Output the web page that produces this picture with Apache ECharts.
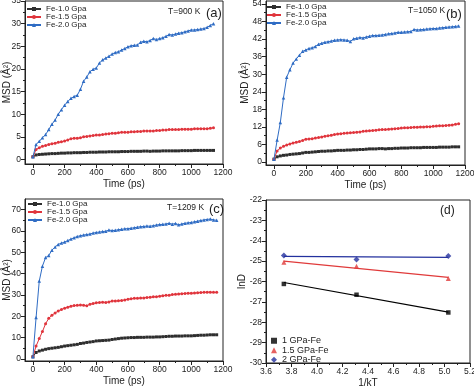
<!DOCTYPE html>
<html><head><meta charset="utf-8">
<script src="https://cdn.jsdelivr.net/npm/echarts@6/dist/echarts.min.js"></script>
<style>html,body{margin:0;padding:0;background:#fff}#c{width:474px;height:390px}</style>
</head><body><div id="c"></div>
<script>
// ---------- data ----------
const time = [0,20,40,60,80,100,120,140,160,180,
  200,220,240,260,280,300,320,340,360,380,
  400,420,440,460,480,500,520,540,560,580,
  600,620,640,660,680,700,720,740,760,780,
  800,820,840,860,880,900,920,940,960,980,
  1000,1020,1040,1060,1080,1100,1120,1140,1160];
const seriesNames = ['Fe-1.0 Gpa','Fe-1.5 Gpa','Fe-2.0 Gpa'];

// (a) T=900 K
const a_fe10 = [0.6,1.0,1.1,1.15,1.2,1.25,1.3,1.3,1.35,1.4,
  1.4,1.45,1.45,1.5,1.5,1.5,1.55,1.55,1.6,1.6,
  1.6,1.65,1.65,1.65,1.7,1.7,1.7,1.7,1.75,1.75,
  1.75,1.8,1.8,1.8,1.8,1.85,1.85,1.8,1.85,1.85,
  1.85,1.9,1.9,1.9,1.9,1.9,1.9,1.95,1.95,1.95,
  1.95,2.0,2.0,2.0,2.0,2.0,2.0,2.0];
const a_fe15 = [0.6,2.2,2.6,2.9,3.1,3.3,3.5,3.6,3.8,3.9,
  4.1,4.3,4.6,4.7,4.7,4.8,5.0,5.1,5.2,5.3,
  5.4,5.4,5.5,5.6,5.7,5.8,5.8,5.9,6.0,6.0,
  6.0,6.1,6.1,6.2,6.2,6.3,6.3,6.3,6.3,6.4,
  6.4,6.5,6.5,6.6,6.6,6.6,6.6,6.7,6.7,6.7,
  6.7,6.8,6.8,6.8,6.8,6.8,6.9,7.0];
const a_fe20 = [0.6,3.3,4.0,4.8,5.5,6.6,7.8,8.7,10.0,11.0,
  12.0,12.8,13.5,13.9,14.2,15.5,17.3,18.2,19.4,19.9,
  20.2,21.3,22.0,22.4,22.8,23.3,23.6,23.8,24.2,24.5,
  24.9,25.1,25.2,25.3,25.9,26.1,26.0,26.3,26.7,26.5,
  26.7,26.9,27.2,27.6,27.5,27.7,27.9,28.0,28.2,28.4,
  28.6,28.6,28.7,28.8,28.9,29.2,29.6,30.0];

// (b) T=1050 K
const b_fe10 = [1.0,1.8,2.1,2.3,2.4,2.6,2.7,2.8,2.9,3.1,
  3.3,3.3,3.4,3.5,3.6,3.7,3.7,3.8,3.8,3.9,
  4.0,4.0,4.0,4.1,4.1,4.2,4.2,4.3,4.3,4.4,
  4.5,4.5,4.5,4.6,4.6,4.5,4.6,4.6,4.7,4.7,
  4.8,4.8,4.8,4.9,4.9,4.9,4.9,5.0,5.0,5.0,
  5.0,5.0,5.1,5.1,5.1,5.1,5.2,5.2,5.2];
const b_fe15 = [1.0,3.8,4.8,5.4,5.8,6.2,6.5,6.8,7.0,7.4,
  7.8,7.9,8.0,8.2,8.4,8.6,8.8,9.0,9.2,9.4,
  9.6,9.7,9.8,9.9,10.0,10.1,10.2,10.3,10.5,10.6,
  10.7,10.8,10.9,11.0,11.1,11.1,11.2,11.3,11.4,11.5,
  11.6,11.7,11.7,11.8,11.9,11.9,12.0,12.0,12.1,12.1,
  12.2,12.3,12.4,12.4,12.5,12.6,12.7,12.9,13.1];
const b_fe20 = [1.0,7.5,13.5,22.0,29.0,31.5,33.8,35.2,36.5,37.8,
  38.3,38.8,39.0,39.5,40.2,40.6,40.9,41.1,41.3,41.6,
  41.7,41.8,41.7,41.6,41.2,42.1,42.3,42.5,42.4,42.7,
  43.0,43.2,43.2,43.3,43.4,43.6,43.8,43.9,44.1,44.3,
  44.3,44.4,44.5,44.6,45.3,45.1,45.2,45.3,45.4,45.5,
  45.6,45.6,45.8,45.9,46.0,46.1,46.2,46.3,46.5];

// (c) T=1209 K
const c_fe10 = [1.0,3.0,3.7,4.1,4.5,4.8,5.0,5.2,5.4,5.7,
  6.0,6.2,6.4,6.6,6.8,7.2,7.4,7.7,7.9,8.1,
  8.4,8.5,8.6,8.7,8.8,9.1,9.3,9.5,9.7,9.8,
  9.9,10.0,10.0,10.1,10.1,10.1,10.2,10.2,10.2,10.3,
  10.3,10.4,10.5,10.6,10.6,10.7,10.7,10.7,10.8,10.8,
  10.8,10.9,11.0,11.1,11.1,11.2,11.3,11.3,11.3];
const c_fe15 = [1.0,6.0,9.5,12.8,16.5,19.0,20.5,21.5,22.5,23.2,
  23.8,24.2,24.7,25.0,25.1,25.3,25.2,24.9,25.6,26.0,
  26.3,26.5,26.6,26.5,26.7,27.2,27.1,27.3,27.4,27.6,
  28.0,28.2,28.4,28.4,28.5,28.6,28.8,28.9,29.1,29.2,
  29.4,29.6,29.8,29.8,30.2,30.3,30.4,30.6,30.7,30.8,
  30.8,30.9,31.0,31.1,31.2,31.3,31.3,31.2,31.2];
const c_fe20 = [1.0,19.4,36.5,43.5,47.5,48.5,51.0,52.5,53.7,54.3,
  54.8,55.5,56.2,56.8,57.4,57.8,58.1,58.3,58.6,59.0,
  59.3,59.5,59.7,59.9,60.4,60.2,60.3,60.6,60.8,61.0,
  61.1,61.3,61.5,61.8,62.0,62.1,62.3,62.2,62.5,62.8,
  63.0,63.1,63.3,63.6,63.2,63.5,62.9,63.3,63.6,63.8,
  64.0,64.3,64.6,64.9,65.2,65.4,65.6,65.2,65.0];

// (d) Arrhenius
const d_names = ['1 GPa-Fe','1.5 GPa-Fe','2 GPa-Fe'];
const d_invkT = [3.74, 4.31, 5.03];
const d_1gpa = [-26.12, -26.65, -27.52];
const d_15gpa = [-25.05, -25.25, -25.85];
const d_2gpa = [-24.72, -24.92, -24.75];
const d_fitX = [3.74, 5.03];
const d_fit1 = [-26.05, -27.50];
const d_fit15 = [-25.00, -25.80];
const d_fit2 = [-24.77, -24.82];

// tick labels
const timeTicks = [0,200,400,600,800,1000,1200];
const a_yTicks = [0,5,10,15,20,25,30,35];
const b_yTicks = [0,6,12,18,24,30,36,42,48,54];
const c_yTicks = [0,10,20,30,40,50,60,70];
const d_xTicks = [3.6,3.8,4.0,4.2,4.4,4.6,4.8,5.0,5.2];
const d_yTicks = [-30,-29,-28,-27,-26,-25,-24,-23,-22];

// ---------- styling / building ----------
const ink = '#222';
const FONT = 'Liberation Sans';
const colBlack = '#2e2e2e', colRed = '#e0343c', colBlue = '#2f6cc4';
function mids(t){ const m=[]; for(let i=0;i<t.length-1;i++) m.push((t[i]+t[i+1])/2); return m; }
function pairs(xs, ys){ return ys.map((v,i)=>[xs[i], v]); }

const grids = [
  {left:25, top:1, width:198, height:163},
  {left:266, top:1, width:199, height:164},
  {left:25, top:199, width:198, height:162},
  {left:266, top:200, width:204, height:163}
].map(g=>Object.assign(g,{show:true, borderColor:ink, borderWidth:1, backgroundColor:'transparent', containLabel:false, outerBoundsMode:'none'}));

const lblStyle = {fontSize:8.5, color:ink, fontFamily:FONT};
function mainAxis(dim, g, min, max, ticks, name, nameGap, fmt){
  return {type:'value', gridIndex:g, min, max, position: dim==='x'?'bottom':'left',
    axisLine:{show:true, onZero:false, lineStyle:{color:ink, width:1}},
    axisTick:{show:true, customValues:ticks, length:4, lineStyle:{color:ink}},
    axisLabel:Object.assign({customValues:ticks, margin:4, formatter:fmt||(v=>String(v))}, lblStyle),
    splitLine:{show:false}, minorTick:{show:false},
    name, nameLocation:'middle', nameGap, nameMoveOverlap:false,
    nameTextStyle:{fontSize:10, color:ink, fontFamily:FONT}};
}
function minorAxis(dim, g, min, max, ticks){
  const gr = grids[g];
  return {type:'value', gridIndex:g, min, max, position: dim==='x'?'top':'right',
    offset: dim==='x' ? -gr.height : -gr.width,
    axisLine:{show:false, onZero:false},
    axisTick:{show:true, inside:true, customValues:mids(ticks), length:2, lineStyle:{color:ink}},
    axisLabel:{show:false}, splitLine:{show:false}};
}

const xAxis = [
  mainAxis('x',0,-50,1200,timeTicks,'Time (ps)',15),
  mainAxis('x',1,-50,1200,timeTicks,'Time (ps)',15),
  mainAxis('x',2,-50,1200,timeTicks,'Time (ps)',15),
  mainAxis('x',3,3.6,5.2,d_xTicks,'1/kT',15,v=>v.toFixed(1)),
  minorAxis('x',0,-50,1200,timeTicks),
  minorAxis('x',1,-50,1200,timeTicks),
  minorAxis('x',2,-50,1200,timeTicks),
  minorAxis('x',3,3.6,5.2,d_xTicks)
];
const yAxis = [
  mainAxis('y',0,-1,35,a_yTicks,'MSD (Å²)',13),
  mainAxis('y',1,-1,55,b_yTicks,'MSD (Å²)',16),
  mainAxis('y',2,-1,75,c_yTicks,'MSD (Å²)',13),
  mainAxis('y',3,-30,-22,d_yTicks,'lnD',19),
  minorAxis('y',0,-1,35,a_yTicks),
  minorAxis('y',1,-1,55,b_yTicks),
  minorAxis('y',2,-1,75,c_yTicks),
  minorAxis('y',3,-30,-22,d_yTicks)
];

const msdSym = [['rect',colBlack,3],['circle',colRed,3],['triangle',colBlue,3.5]];
const panels = [[a_fe10,a_fe15,a_fe20],[b_fe10,b_fe15,b_fe20],[c_fe10,c_fe15,c_fe20]];
const series = [];
panels.forEach((arrs,p)=>{
  arrs.forEach((arr,k)=>{
    series.push({type:'line', name:seriesNames[k], xAxisIndex:p, yAxisIndex:p,
      data:pairs(time, arr), symbol:msdSym[k][0], symbolSize:msdSym[k][2], showSymbol:true,
      lineStyle:{color:msdSym[k][1], width:1}, itemStyle:{color:msdSym[k][1]},
      emphasis:{disabled:true}, z:2+k});
  });
});
const dCols = ['#000000','#e03a3a','#23309e'];
const dSyms = [['rect',4.5],['triangle',5],['diamond',6]];
[[d_1gpa,d_fit1],[d_15gpa,d_fit15],[d_2gpa,d_fit2]].forEach(([pts,fit],k)=>{
  series.push({type:'line', name:d_names[k]+' fit', xAxisIndex:3, yAxisIndex:3,
    data:pairs(d_fitX, fit), showSymbol:false, symbol:'none',
    lineStyle:{color:dCols[k], width:1.2}, emphasis:{disabled:true}});
  series.push({type:'scatter', name:d_names[k], xAxisIndex:3, yAxisIndex:3,
    data:pairs(d_invkT, pts), symbol:dSyms[k][0], symbolSize:dSyms[k][1],
    itemStyle:{color:dCols[k]}, emphasis:{disabled:true}, z:5});
});

function msdLegend(left, top){
  return {data:seriesNames, orient:'vertical', left, top, itemWidth:14, itemHeight:5, itemGap:0,
    padding:0, selectedMode:false, textStyle:{fontSize:8, color:ink, fontFamily:FONT, lineHeight:8}};
}
const legend = [
  msdLegend(26,5), msdLegend(266,3), msdLegend(27,200),
  {data:d_names, orient:'vertical', left:271, top:336, itemWidth:6, itemHeight:6, itemGap:0,
   padding:0, selectedMode:false, textStyle:{fontSize:9, color:ink, fontFamily:FONT, lineHeight:9.5}}
];

function txt(x, y, s, size){ return {type:'text', x, y, style:{text:s, fill:ink, font: size+'px "'+FONT+'"', textVerticalAlign:'middle'}}; }
const graphic = [
  txt(168,12,'T=900 K',8.5), txt(206,13,'(a)',13),
  txt(408,11,'T=1050 K',8.5), txt(446,14,'(b)',13),
  txt(167,208,'T=1209 K',8.5), txt(209,209,'(c)',13),
  txt(440,211,'(d)',12)
];

const chart = echarts.init(document.getElementById('c'), null, {renderer:'canvas'});
chart.setOption({animation:false, backgroundColor:'#fff', grid:grids, xAxis, yAxis, series, legend, graphic, tooltip:{show:false}});
</script></body></html>
